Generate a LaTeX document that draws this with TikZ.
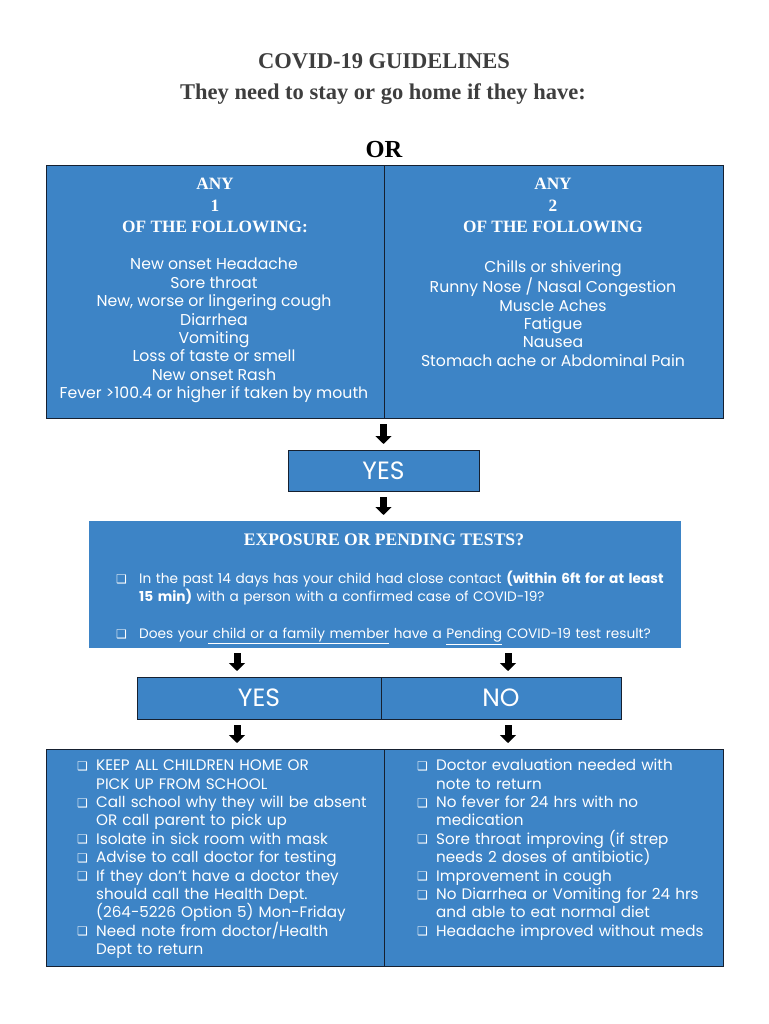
\documentclass[tikz,border=0pt]{standalone}
\usepackage{fontspec}
\setmainfont{Liberation Serif}
\newfontfamily\bodyf{Poppins}
\newfontfamily\bulf{DejaVu Sans}
\usetikzlibrary{arrows.meta,calc}
\definecolor{boxblue}{RGB}{61,132,198}
\definecolor{boxline}{RGB}{22,32,48}
\definecolor{titlegray}{RGB}{62,62,62}
\newcommand\bul{{\bulf\fontsize{12}{12}\selectfont ❑}}
\newcommand\bitem[2][19pt]{\par\hangindent=#1\hangafter=1\noindent\makebox[#1][l]{\raisebox{0.3pt}{\bul}}#2}
\tikzset{
  box/.style={draw=boxline, line width=1pt, fill=boxblue, inner sep=0pt},
  head/.style={text=white, font=\fontsize{17.3}{21.5}\selectfont\bfseries, align=center, inner sep=0pt},
  body/.style={text=white, font=\bodyf\fontsize{15.7}{18.4}\selectfont, align=center, inner sep=0pt},
  blist/.style={text=white, font=\bodyf\fontsize{15.2}{18.4}\selectfont, text width=320pt, align=left, inner sep=0pt},
  big/.style={text=white, font=\bodyf\fontsize{25}{28}\selectfont, inner sep=0pt},
  blk/.style={line width=7pt, black, -{Triangle[width=16pt,length=8pt]}, shorten <=5.5pt, shorten >=5.5pt},
}
\begin{document}
\begin{tikzpicture}[x=1pt,y=-1pt]
\useasboundingbox (0,0) rectangle (768,1024);
% titles
\node[font=\fontsize{22.5}{26}\selectfont\bfseries, text=titlegray, inner sep=0pt] (title) at (384,61) {COVID-19 GUIDELINES};
\node[font=\fontsize{22.5}{26}\selectfont\bfseries, text=titlegray, inner sep=0pt] (sub) at (383,94) {They need to stay or go home if they have:};
\node[font=\fontsize{24.5}{28}\selectfont\bfseries, text=black, inner sep=0pt] (or) at (384,150) {OR};
% top boxes
\node[box, minimum width=338pt, minimum height=252pt] (L1) at (215,292) {};
\node[box, minimum width=339pt, minimum height=252pt] (R1) at (553.5,292) {};
\node[head, anchor=north] (L1h) at (215,178) {ANY\\1\\OF THE FOLLOWING:};
\node[body, anchor=north] (L1t) at (214,258) {New onset Headache\\Sore throat\\New, worse or lingering cough\\Diarrhea\\Vomiting\\Loss of taste or smell\\New onset Rash\\Fever >100.4 or higher if taken by mouth};
\node[head, anchor=north] (R1h) at (553,178) {ANY\\2\\OF THE FOLLOWING};
\node[body, anchor=north] (R1t) at (553,260.5) {Chills or shivering\\Runny Nose / Nasal Congestion\\Muscle Aches\\Fatigue\\Nausea\\Stomach ache or Abdominal Pain};
% yes box
\node[box, minimum width=191pt, minimum height=41pt] (yes1) at (383.5,470.5) {};
\node[big] (yes1t) at (yes1.center) {YES};
% exposure box
\node[box, draw=boxblue, minimum width=591pt, minimum height=126pt] (exp) at (384.5,584) {};
\node[head, font=\fontsize{17.6}{20}\selectfont\bfseries, anchor=north] (exph) at (384,533.5) {EXPOSURE OR PENDING TESTS?};
\node[blist, font=\bodyf\fontsize{13.7}{18}\selectfont, text width=580pt, anchor=north west] (expt) at (116,565.5) {%
\bitem[23pt]{In the past 14 days has your child had close contact {\bfseries(within 6ft for at least}\newline {\bfseries 15 min)} with a person with a confirmed case of COVID-19?}
\vspace{19pt}
\bitem[23pt]{Does your\underline{ child or a family member} have a \underline{Pending} COVID-19 test result?}\par};
% yes / no
\node[box, minimum width=244pt, minimum height=42pt] (yes2) at (259,698) {};
\node[box, minimum width=240pt, minimum height=42pt] (no2) at (501,698) {};
\node[big] (yes2t) at (yes2.center) {YES};
\node[big] (no2t) at (no2.center) {NO};
% bottom boxes
\node[box, minimum width=338pt, minimum height=217pt] (B1) at (215,857.5) {};
\node[box, minimum width=339pt, minimum height=217pt] (B2) at (553.5,857.5) {};
\node[blist, anchor=north west] (B1t) at (77,752) {%
\bitem{KEEP ALL CHILDREN HOME OR\newline PICK UP FROM SCHOOL}
\bitem{Call school why they will be absent\newline OR call parent to pick up}
\bitem{Isolate in sick room with mask}
\bitem{Advise to call doctor for testing}
\bitem{If they don’t have a doctor they\newline should call the Health Dept.\newline (264-5226 Option 5) Mon-Friday}
\bitem{Need note from doctor/Health\newline Dept to return}\par};
\node[blist, anchor=north west] (B2t) at (417,752) {%
\bitem{Doctor evaluation needed with\newline note to return}
\bitem{No fever for 24 hrs with no\newline medication}
\bitem{Sore throat improving (if strep\newline needs 2 doses of antibiotic)}
\bitem{Improvement in cough}
\bitem{No Diarrhea or Vomiting for 24 hrs\newline and able to eat normal diet}
\bitem{Headache improved without meds}\par};
% arrows
\coordinate (cx1) at (237,0);
\coordinate (cx2) at (508,0);
\draw[blk] (yes1.north |- L1.south) -- (yes1.north);
\draw[blk] (yes1.south) -- (yes1.south |- exp.north);
\draw[blk] (cx1 |- exp.south) -- (cx1 |- yes2.north);
\draw[blk] (cx2 |- exp.south) -- (cx2 |- no2.north);
\draw[blk] (cx1 |- yes2.south) -- (cx1 |- B1.north);
\draw[blk] (cx2 |- no2.south) -- (cx2 |- B2.north);
\end{tikzpicture}
\end{document}
